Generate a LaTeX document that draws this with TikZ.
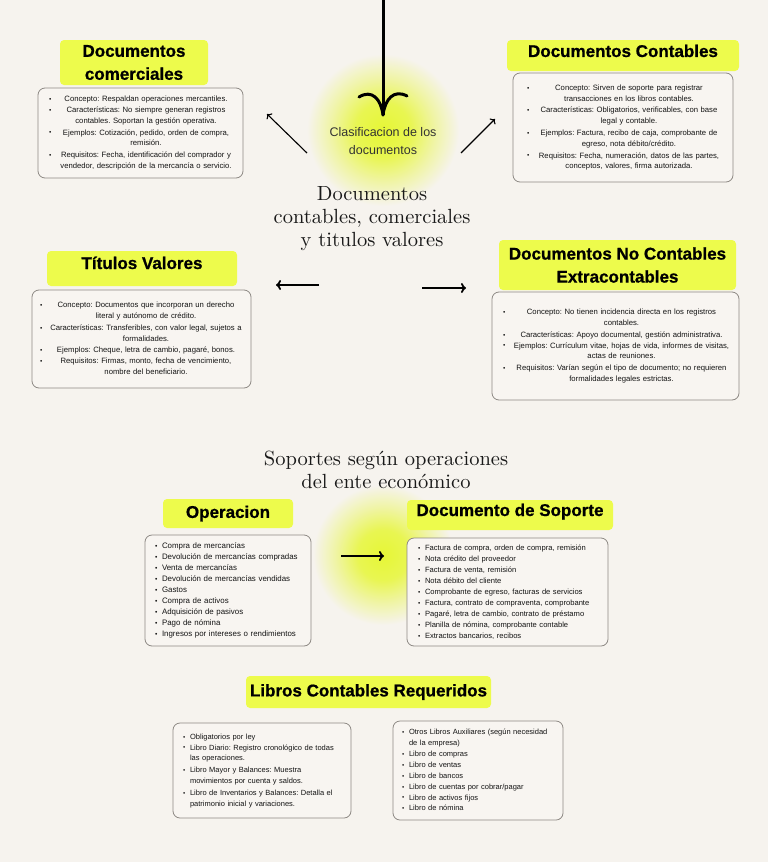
\documentclass[tikz,border=0pt]{standalone}
\usepackage{fontspec}
\newfontfamily\hfont{Liberation Sans}[BoldFeatures={FakeBold=0.8}]
\newfontfamily\serifc{lmroman10-regular.otf}
\usetikzlibrary{arrows.meta}
\definecolor{bgc}{HTML}{F6F3EE}
\definecolor{ylw}{HTML}{EDFB4C}
\definecolor{glowc}{HTML}{E6F636}
\colorlet{glowa}{glowc!85!bgc}
\colorlet{glowb}{glowc!40!bgc}
\definecolor{brd}{HTML}{8E8984}
\definecolor{boxf}{HTML}{F8F5F1}
\definecolor{txt}{HTML}{141414}
\pgfdeclareradialshading{glow}{\pgfpoint{0bp}{0bp}}{color(0bp)=(glowc); color(9bp)=(glowa); color(17bp)=(glowb); color(25bp)=(bgc); color(50bp)=(bgc)}
\newlength\blt
\newlength\tw
\newcommand\bul{\raisebox{0.05ex}{\scalebox{0.85}{\textbullet}}}
\newcommand\cit[1]{\makebox[\blt][l]{\bul}\makebox[\tw][c]{\begin{tabular}[t]{@{}c@{}}#1\end{tabular}}\par}
\newcommand\lit[1]{\makebox[\blt][l]{\bul}\begin{tabular}[t]{@{}l@{}}#1\end{tabular}\par}
\newcommand\hdtxt[2]{\smash{\raisebox{#1}{#2}}}
\tikzset{
  hdr/.style={fill=ylw, rounded corners=4pt, inner sep=0pt, align=center, text=black,
    font=\hfont\bfseries\fontsize{17}{23}\selectfont},
  lbox/.style={draw=brd, line width=0.8pt, fill=boxf, rounded corners=7pt, inner ysep=0pt,
    align=left, text=txt},
  ctr/.style={font=\hfont\fontsize{7.7}{10.8}\selectfont},
  serif/.style={align=center, text=black!90, font=\serifc\fontsize{20.5}{23}\selectfont},
  bigarrow/.style={line width=1.8pt, -{Computer Modern Rightarrow[length=5pt,width=10pt]}},
  thinarrow/.style={line width=1.1pt, -{Computer Modern Rightarrow[length=4pt,width=8pt]}}
}
\begin{document}
\frenchspacing
\begin{tikzpicture}[x=1pt,y=-1pt]
\fill[bgc] (0,0) rectangle (768,862);
\useasboundingbox (0,0) rectangle (768,862);
% glows
\shade[shading=glow] (383,130) circle (76);
\shade[shading=glow] (383,555) circle (70);

% top arrow into centre
\coordinate (top) at (383,-2);
\coordinate (tip) at (383,115);
\draw[line width=3pt] (top) -- (tip);
\draw[line width=3pt, line cap=round] (359,97) .. controls (372,89) and (381,99) .. (tip);
\draw[line width=3pt, line cap=round] (407,96) .. controls (394,89) and (385,99) .. (tip);

\node[font=\hfont\fontsize{12.5}{18}\selectfont, text=black!80, align=center] (clas) at (383,141) {Clasificacion de los\\documentos};

\node[serif] (t1) at (372,219) {Documentos\\contables, comerciales\\y titulos valores};

% diagonal arrows
\coordinate (dl1) at (307,153); \coordinate (dl2) at (267,114);
\coordinate (dr1) at (461,153); \coordinate (dr2) at (495,119);
\draw[thinarrow] (dl1) -- (dl2);
\draw[thinarrow] (dr1) -- (dr2);

% horizontal arrows
\coordinate (ha1) at (319,285); \coordinate (ha2) at (276,285);
\coordinate (hb1) at (422,288); \coordinate (hb2) at (466,288);
\draw[bigarrow] (ha1) -- (ha2);
\draw[bigarrow] (hb1) -- (hb2);

% ---- Documentos comerciales
\node[hdr, minimum width=148, minimum height=45] (hcom) at (134,62.5) {Documentos\\comerciales};
\setlength\blt{11pt}\setlength\tw{172pt}
\node[lbox, ctr, minimum width=205, minimum height=90, text width=183, inner xsep=11] (bcom) at (140.5,133) {%
\cit{Concepto: Respaldan operaciones mercantiles.}
\cit{Características: No siempre generan registros\\contables. Soportan la gestión operativa.}
\cit{Ejemplos: Cotización, pedido, orden de compra,\\remisión.}
\cit{Requisitos: Fecha, identificación del comprador y\\vendedor, descripción de la mercancía o servicio.}};

% ---- Documentos contables
\node[hdr, minimum width=232, minimum height=31] (hcont) at (623,55.5) {\hdtxt{-1.5pt}{Documentos Contables}};
\setlength\blt{12pt}\setlength\tw{180pt}
\node[lbox, ctr, minimum width=220, minimum height=109, text width=192, inner xsep=14] (bcont) at (623,127.5) {%
\cit{Concepto: Sirven de soporte para registrar\\transacciones en los libros contables.}
\cit{Características: Obligatorios, verificables, con base\\legal y contable.}
\cit{Ejemplos: Factura, recibo de caja, comprobante de\\egreso, nota débito/crédito.}
\cit{Requisitos: Fecha, numeración, datos de las partes,\\conceptos, valores, firma autorizada.}};

% ---- Titulos valores
\node[hdr, minimum width=190, minimum height=35] (htit) at (142,268.5) {\hdtxt{-0.5pt}{Títulos Valores}};
\setlength\blt{10pt}\setlength\tw{192pt}
\node[lbox, ctr, minimum width=219, minimum height=98, text width=203, inner xsep=8] (btit) at (141.5,339) {%
\cit{Concepto: Documentos que incorporan un derecho\\literal y autónomo de crédito.}
\cit{Características: Transferibles, con valor legal, sujetos a\\formalidades.}
\cit{Ejemplos: Cheque, letra de cambio, pagaré, bonos.}
\cit{Requisitos: Firmas, monto, fecha de vencimiento,\\nombre del beneficiario.}};

% ---- No contables
\node[hdr, minimum width=237, minimum height=50] (hnc) at (617.5,265) {Documentos No Contables\\Extracontables};
\setlength\blt{12pt}\setlength\tw{213pt}
\node[lbox, ctr, minimum width=247, minimum height=108, text width=225, inner xsep=11] (bnc) at (615.5,346) {%
\cit{Concepto: No tienen incidencia directa en los registros\\contables.}
\cit{Características: Apoyo documental, gestión administrativa.}
\cit{Ejemplos: Currículum vitae, hojas de vida, informes de visitas,\\actas de reuniones.}
\cit{Requisitos: Varían según el tipo de documento; no requieren\\formalidades legales estrictas.}};

% ---- Soportes
\node[serif] (t2) at (386,470) {Soportes según operaciones\\del ente económico};

\node[hdr, minimum width=130, minimum height=29] (hop) at (228,513.5) {Operacion};
\setlength\blt{7pt}
\node[lbox, font=\hfont\fontsize{7.9}{11}\selectfont, minimum width=166, minimum height=111, text width=146, inner xsep=10] (bop) at (228,590.5) {%
\lit{Compra de mercancías}
\lit{Devolución de mercancías compradas}
\lit{Venta de mercancías}
\lit{Devolución de mercancías vendidas}
\lit{Gastos}
\lit{Compra de activos}
\lit{Adquisición de pasivos}
\lit{Pago de nómina}
\lit{Ingresos por intereses o rendimientos}};

\coordinate (oa1) at (341,556); \coordinate (oa2) at (384,556);
\draw[bigarrow] (oa1) -- (oa2);

\node[hdr, minimum width=206, minimum height=30] (hsop) at (510,515) {\hdtxt{-1pt}{Documento de Soporte}};
\node[lbox, font=\hfont\fontsize{7.6}{11}\selectfont, minimum width=201, minimum height=108, text width=179, inner xsep=11] (bsop) at (507.5,592) {%
\lit{Factura de compra, orden de compra, remisión}
\lit{Nota crédito del proveedor}
\lit{Factura de venta, remisión}
\lit{Nota débito del cliente}
\lit{Comprobante de egreso, facturas de servicios}
\lit{Factura, contrato de compraventa, comprobante}
\lit{Pagaré, letra de cambio, contrato de préstamo}
\lit{Planilla de nómina, comprobante contable}
\lit{Extractos bancarios, recibos}};

% ---- Libros
\node[hdr, minimum width=245, minimum height=32] (hlib) at (368.5,692) {Libros Contables Requeridos};
\node[lbox, font=\hfont\fontsize{7.5}{10.8}\selectfont, minimum width=178, minimum height=95, text width=158, inner xsep=10] (bll) at (262,770.5) {%
\lit{Obligatorios por ley}
\lit{Libro Diario: Registro cronológico de todas\\las operaciones.}
\lit{Libro Mayor y Balances: Muestra\\movimientos por cuenta y saldos.}
\lit{Libro de Inventarios y Balances: Detalla el\\patrimonio inicial y variaciones.}};
\node[lbox, font=\hfont\fontsize{7.5}{10.8}\selectfont, minimum width=170, minimum height=99, text width=152, inner xsep=9] (blr) at (478,770.5) {%
\lit{Otros Libros Auxiliares (según necesidad\\de la empresa)}
\lit{Libro de compras}
\lit{Libro de ventas}
\lit{Libro de bancos}
\lit{Libro de cuentas por cobrar/pagar}
\lit{Libro de activos fijos}
\lit{Libro de nómina}};
\end{tikzpicture}
\end{document}
